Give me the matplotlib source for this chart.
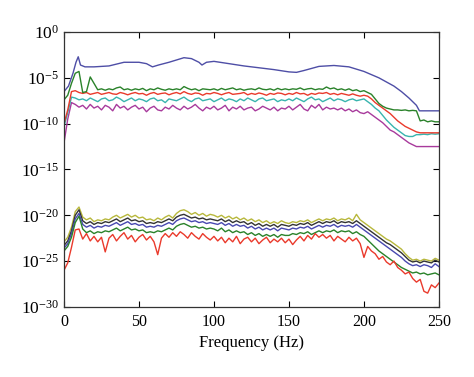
import numpy as np
import matplotlib
matplotlib.use("Agg")
import matplotlib.pyplot as plt

plt.rcParams['font.family'] = ['Liberation Serif', 'DejaVu Serif']
plt.rcParams['mathtext.fontset'] = 'stix'

# common frequency grid (Hz)
freq = np.arange(0, 250.1, 2.5)

# upper group, log10 of spectrum
blue1_f = [0, 3, 6, 8, 9.5, 11, 14, 20, 30, 40, 50, 55, 59, 63, 70, 80, 85, 90, 92, 95,
           100, 110, 120, 130, 140, 150, 155, 160, 170, 180, 190, 200, 210, 220, 225, 230,
           235, 237, 240, 250]
blue1 = [-6.5, -5.9, -4.5, -3.3, -2.7, -3.6, -3.8, -3.8, -3.7, -3.3, -3.3, -3.45, -3.8, -3.6,
         -3.3, -2.8, -2.9, -3.3, -3.6, -3.3, -3.2, -3.45, -3.7, -3.9, -4.1, -4.35, -4.4, -4.2,
         -3.75, -3.65, -3.8, -4.3, -5.0, -5.9, -6.5, -7.2, -8.0, -8.6, -8.6, -8.6]

green1 = [-7.4, -6.9, -5.6, -4.5, -4.3, -6.6, -6.5, -4.9, -5.6, -6.3,
          -6.2, -6.35, -6.2, -6.3, -6.1, -6.0, -6.3, -6.2, -6.35, -6.2,
          -6.3, -6.15, -6.4, -6.2, -6.3, -6.1, -6.25, -6.35, -6.2, -6.3,
          -6.2, -6.3, -5.95, -6.15, -6.3, -6.2, -6.4, -6.2, -6.25, -6.3,
          -6.2, -6.35, -6.15, -6.3, -6.2, -6.1, -6.3, -6.2, -6.35, -6.25,
          -6.2, -6.3, -6.1, -6.25, -6.3, -6.2, -6.35, -6.15, -6.3, -6.2,
          -6.3, -6.2, -6.25, -6.1, -6.3, -6.2, -6.15, -6.3, -6.2, -6.25,
          -6.0, -6.2, -6.1, -6.3, -6.2, -6.35, -6.2, -6.4, -6.3, -6.5,
          -6.4, -6.6, -6.8, -7.3, -7.8, -8.1, -8.3, -8.4, -8.5, -8.5,
          -8.55, -8.5, -8.6, -8.55, -8.6, -9.7, -9.6, -9.8, -9.7, -9.8, -9.8]

red1 = [-10.0, -8.5, -6.5, -6.4, -6.6, -6.7, -6.6, -6.8, -6.7, -6.6,
        -6.8, -6.7, -6.6, -6.75, -6.8, -6.6, -6.7, -6.85, -6.7, -6.6,
        -6.75, -6.7, -6.9, -6.7, -6.6, -6.8, -6.7, -6.65, -6.85, -6.7,
        -6.6, -6.75, -6.5, -6.7, -6.8, -6.65, -6.7, -6.9, -6.7, -6.75,
        -6.6, -6.7, -6.85, -6.7, -6.6, -6.8, -6.75, -6.7, -6.6, -6.85,
        -6.7, -6.8, -6.65, -6.75, -6.9, -6.7, -6.8, -6.65, -6.7, -6.85,
        -6.7, -6.8, -6.6, -6.75, -6.7, -6.9, -6.7, -6.8, -6.65, -6.7,
        -6.6, -6.8, -6.7, -6.85, -6.7, -6.8, -6.9, -6.75, -6.9, -7.0,
        -6.9, -7.0, -7.3, -7.7, -8.0, -8.3, -8.6, -8.9, -9.3, -9.7,
        -10.0, -10.3, -10.5, -10.7, -10.9, -11.0, -11.0, -11.0, -11.0, -11.0, -11.0]

cyan1 = [-10.3, -8.8, -7.1, -7.2, -7.4, -7.3, -7.5, -7.2, -7.4, -7.6,
         -7.3, -7.2, -7.5, -7.4, -7.1, -7.3, -7.6, -7.4, -7.2, -7.5,
         -7.3, -7.4, -7.6, -7.3, -7.2, -7.5, -7.4, -7.7, -7.3, -7.4,
         -7.5, -7.3, -7.1, -7.4, -7.6, -7.3, -7.2, -7.5, -7.4, -7.3,
         -7.6, -7.4, -7.2, -7.5, -7.3, -7.4, -7.6, -7.3, -7.5, -7.2,
         -7.4, -7.6, -7.3, -7.2, -7.5, -7.4, -7.3, -7.6, -7.4, -7.5,
         -7.3, -7.5, -7.2, -7.4, -7.6, -7.3, -7.1, -7.4, -7.3, -7.6,
         -7.4, -7.2, -7.5, -7.3, -7.4, -7.6, -7.4, -7.3, -7.5, -7.4,
         -7.3, -7.6, -7.9, -8.3, -8.6, -9.1, -9.6, -10.0, -10.4, -10.7,
         -11.0, -11.3, -11.4, -11.4, -11.2, -11.2, -11.15, -11.2, -11.1, -11.15, -11.1]

magenta1 = [-12.1, -9.5, -7.7, -7.9, -8.2, -8.0, -8.4, -7.9, -8.3, -8.1,
            -8.5, -8.0, -8.2, -8.6, -7.9, -8.3, -8.1, -8.5, -8.2, -8.0,
            -8.4, -8.2, -8.7, -8.3, -8.1, -8.5, -8.6, -8.2, -8.4, -8.0,
            -8.3, -8.5, -8.1, -8.4, -8.2, -7.9, -8.3, -8.6, -8.2, -8.4,
            -8.1, -8.5, -8.3, -8.0, -8.6, -8.2, -8.4, -8.1, -8.5, -8.3,
            -8.2, -8.6, -8.4, -8.1, -8.3, -8.5, -8.2, -8.6, -8.3, -8.4,
            -8.1, -8.5, -8.2, -7.9, -8.4, -8.6, -8.0, -8.3, -7.9, -8.5,
            -8.2, -8.4, -8.3, -8.5, -8.3, -8.6, -8.4, -8.7, -8.5, -8.8,
            -8.9, -8.7, -9.0, -9.3, -9.6, -9.9, -10.3, -10.7, -10.9, -11.2,
            -11.5, -11.8, -12.1, -12.3, -12.5, -12.5, -12.5, -12.5, -12.5, -12.5, -12.5]

# lower group
yellow2 = [-22.9, -22.4, -21.3, -19.6, -19.1, -20.2, -20.5, -20.3, -20.7, -20.5,
           -20.6, -20.4, -20.5, -20.2, -20.0, -20.3, -20.1, -19.9, -20.2, -20.0,
           -20.3, -20.2, -20.5, -20.4, -20.6, -20.3, -20.5, -20.2, -20.0, -20.3,
           -19.8, -19.5, -19.4, -19.6, -19.9, -19.7, -20.0, -19.8, -20.1, -19.9,
           -20.0, -20.2, -20.0, -20.3, -20.1, -20.4, -20.2, -20.5, -20.3, -20.6,
           -20.4, -20.7, -20.5, -20.8, -20.6, -20.9, -20.7, -20.9, -20.6, -20.8,
           -20.9, -20.7, -20.8, -20.6, -20.7, -20.5, -20.8, -20.6, -20.4, -20.6,
           -20.4, -20.5, -20.3, -20.6, -20.4, -20.5, -20.3, -20.6, -19.9, -20.5,
           -20.8, -21.1, -21.4, -21.7, -22.0, -22.3, -22.6, -22.8, -23.1, -23.4,
           -23.7, -24.2, -24.6, -24.9, -24.8, -25.0, -24.8, -24.9, -25.0, -24.7, -24.9]

black2 = [-23.3, -22.8, -21.7, -20.0, -19.4, -20.6, -20.9, -20.7, -21.0, -20.8,
          -20.9, -20.7, -20.8, -20.6, -20.4, -20.7, -20.5, -20.3, -20.6, -20.5,
          -20.7, -20.6, -20.9, -20.8, -20.9, -20.7, -20.8, -20.6, -20.4, -20.6,
          -20.2, -20.0, -19.9, -20.1, -20.3, -20.2, -20.4, -20.3, -20.5, -20.4,
          -20.5, -20.6, -20.4, -20.7, -20.5, -20.8, -20.6, -20.8, -20.7, -21.0,
          -20.8, -21.1, -20.9, -21.2, -21.0, -21.2, -21.0, -21.3, -21.0, -21.1,
          -21.2, -21.0, -21.1, -20.9, -21.0, -20.8, -21.1, -20.9, -20.7, -20.9,
          -20.7, -20.8, -20.6, -20.9, -20.7, -20.8, -20.7, -20.9, -20.6, -20.9,
          -21.2, -21.5, -21.8, -22.1, -22.4, -22.7, -23.0, -23.2, -23.5, -23.8,
          -24.1, -24.5, -24.9, -25.1, -25.0, -25.2, -25.0, -25.1, -25.2, -24.9, -25.1]

blue2 = [-23.6, -23.1, -22.0, -20.4, -19.8, -21.0, -21.3, -21.1, -21.4, -21.2,
         -21.3, -21.1, -21.2, -21.0, -20.8, -21.1, -20.9, -20.7, -21.0, -20.9,
         -21.1, -21.0, -21.3, -21.2, -21.3, -21.1, -21.2, -21.0, -20.8, -21.0,
         -20.6, -20.4, -20.3, -20.5, -20.7, -20.6, -20.8, -20.7, -20.9, -20.8,
         -20.9, -21.0, -20.8, -21.1, -20.9, -21.2, -21.0, -21.2, -21.1, -21.4,
         -21.2, -21.5, -21.3, -21.6, -21.4, -21.6, -21.4, -21.7, -21.4, -21.5,
         -21.6, -21.4, -21.5, -21.3, -21.4, -21.2, -21.5, -21.3, -21.1, -21.3,
         -21.1, -21.2, -21.0, -21.3, -21.1, -21.2, -21.1, -21.3, -21.0, -21.3,
         -21.6, -21.9, -22.2, -22.5, -22.8, -23.1, -23.4, -23.7, -24.0, -24.3,
         -24.6, -25.0, -25.3, -25.5, -25.4, -25.6, -25.4, -25.5, -25.7, -25.3, -25.6]

green2 = [-23.9, -23.4, -22.4, -20.8, -20.1, -21.5, -21.9, -21.7, -22.0, -21.8,
          -21.9, -21.7, -21.8, -21.6, -21.4, -21.7, -21.5, -21.3, -21.6, -21.5,
          -21.7, -21.6, -21.9, -21.8, -21.9, -21.7, -21.8, -21.6, -21.4, -21.6,
          -21.2, -21.0, -20.9, -21.1, -21.3, -21.2, -21.4, -21.3, -21.5, -21.4,
          -21.5, -21.7, -21.4, -21.8, -21.6, -21.9, -21.7, -21.9, -21.8, -22.1,
          -21.9, -22.2, -22.0, -22.3, -22.1, -22.3, -22.1, -22.4, -22.1, -22.2,
          -22.2, -22.0, -22.1, -21.9, -22.0, -21.8, -22.1, -21.9, -21.7, -21.9,
          -21.7, -21.8, -21.6, -21.9, -21.7, -21.8, -21.7, -22.0, -21.8, -22.1,
          -22.3, -22.7, -23.1, -23.5, -23.9, -24.2, -24.5, -24.8, -25.1, -25.4,
          -25.7, -25.9, -26.1, -26.3, -26.2, -26.4, -26.3, -26.5, -26.4, -26.3, -26.5]

red2 = [-26.0, -25.2, -23.5, -21.6, -21.5, -22.6, -22.0, -22.8, -22.3, -22.9,
        -22.4, -24.0, -22.5, -22.1, -22.8, -22.3, -21.9, -22.6, -22.2, -22.9,
        -22.4, -22.1, -22.7, -22.3, -22.9, -24.3, -22.5, -22.0, -22.4, -21.9,
        -22.3, -21.8, -22.1, -22.5, -21.9, -22.3, -22.6, -22.0, -22.4, -22.7,
        -22.3, -22.8, -22.4, -23.0, -22.5, -22.9, -22.3, -23.1, -22.6, -22.4,
        -22.9, -22.5, -23.1, -22.7, -22.4, -23.0, -22.6, -22.9, -22.5, -23.0,
        -22.6, -23.2, -22.7, -22.3, -22.8, -22.2, -22.6, -22.0, -22.4, -22.1,
        -22.5, -22.2, -22.8, -22.3, -22.6, -22.9, -22.4, -22.8, -22.5, -23.1,
        -24.6, -23.4, -23.9, -24.2, -24.8, -24.5, -25.1, -25.4, -25.0, -25.7,
        -26.0, -26.4, -26.2, -26.9, -27.3, -27.0, -28.3, -28.5, -27.6, -27.9, -27.4]

fig = plt.figure(figsize=(4.74, 3.77), dpi=100)
ax = fig.add_axes([0.135, 0.186, 0.791, 0.729])

lw = 1.0
ax.semilogy(freq, 10.0 ** np.array(yellow2), color='#b8b83c', lw=lw)
ax.semilogy(freq, 10.0 ** np.array(black2), color='#333333', lw=lw)
ax.semilogy(freq, 10.0 ** np.array(blue2), color='#4848b0', lw=lw)
ax.semilogy(freq, 10.0 ** np.array(green2), color='#2a822a', lw=lw)
ax.semilogy(freq, 10.0 ** np.array(red2), color='#ea3a2c', lw=lw)

ax.semilogy(freq, 10.0 ** np.array(magenta1), color='#a83a9c', lw=lw)
ax.semilogy(freq, 10.0 ** np.array(cyan1), color='#38b4ae', lw=lw)
ax.semilogy(freq, 10.0 ** np.array(red1), color='#ea3a2c', lw=lw)
ax.semilogy(freq, 10.0 ** np.array(green1), color='#2a822a', lw=lw)
ax.semilogy(blue1_f, 10.0 ** np.array(blue1), color='#4e4ea6', lw=lw)

ax.set_xlim(0, 250)
ax.set_ylim(1e-30, 1e0)
ax.set_xticks([0, 50, 100, 150, 200, 250])
ax.set_yticks([10.0 ** k for k in range(-30, 1, 5)])
ax.yaxis.set_minor_locator(matplotlib.ticker.NullLocator())
ax.tick_params(direction='in', top=True, right=True, length=4, width=0.8)
ax.tick_params(axis='x', labelsize=11.5, pad=5)
ax.tick_params(axis='y', labelsize=12.5)
for s in ax.spines.values():
    s.set_linewidth(0.9)
    s.set_color('#333333')
ax.set_xlabel('Frequency (Hz)', fontsize=12)

fig.savefig('out.png', dpi=100)
